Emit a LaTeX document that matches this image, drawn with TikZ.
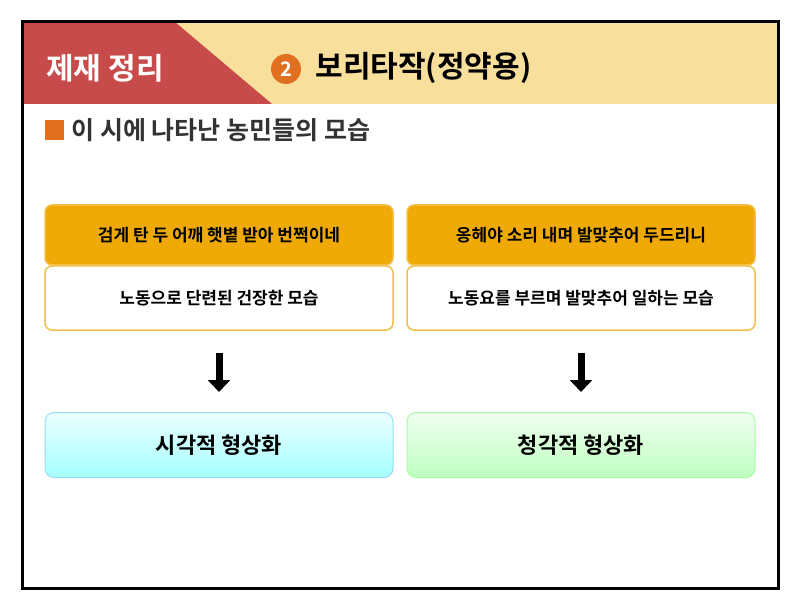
\documentclass[tikz,border=0pt]{standalone}
\usepackage{fontspec}
\setmainfont{Noto Sans CJK KR}
\newfontfamily\hbold{Noto Sans CJK KR Bold}
\usetikzlibrary{positioning,arrows.meta}
\definecolor{hdred}{HTML}{C84B4B}
\definecolor{hdyellow}{HTML}{F8DF9C}
\definecolor{lineorange}{HTML}{E07020}
\definecolor{boxgold}{HTML}{EFAA08}
\definecolor{boxedge}{HTML}{F1C04A}
\tikzset{
    verse/.style={draw=boxedge, fill=boxgold, rounded corners=7pt, minimum width=348pt,
        minimum height=60pt, font=\hbold\fontsize{17}{20}\selectfont, line width=1.5pt},
    meaning/.style={draw=boxedge, fill=white, rounded corners=7pt, minimum width=348pt,
        minimum height=64pt, font=\hbold\fontsize{17}{20}\selectfont, line width=1.5pt},
    result/.style={rounded corners=9pt, minimum width=348pt, minimum height=65pt,
        font=\hbold\fontsize{22}{26}\selectfont, line width=1pt},
    downarrow/.style={-{Triangle[length=12pt,width=22pt]}, line width=7pt}
}
\begin{document}
\begin{tikzpicture}[x=1pt,y=-1pt]
    \useasboundingbox[fill=white] (0,0) rectangle (800,612);
    % header band
    \fill[hdyellow] (22,22) rectangle (778,104);
    \fill[hdred] (22,22) -- (175,22) -- (272,104) -- (22,104) -- cycle;
    \node[text=white, font=\hbold\fontsize{30}{34}\selectfont] (topic) at (105,68) {제재 정리};
    \node[circle, fill=lineorange, inner sep=0pt, minimum size=30pt, text=white,
        font=\hbold\fontsize{20}{22}\selectfont] (num) at (286,69) {2};
    \node[anchor=west, font=\hbold\fontsize{30}{34}\selectfont] (title) at (312,68) {보리타작(정약용)};
    % subtitle
    \fill[lineorange] (45,120) rectangle (64,140);
    \node[anchor=west, text=black!80, font=\hbold\fontsize{25}{28}\selectfont] (sub) at (68,130) {이 시에 나타난 농민들의 모습};
    % left column
    \node[verse] (v1) at (219,235) {검게 탄 두 어깨 햇볕 받아 번쩍이네};
    \node[meaning] (m1) at (219,298) {노동으로 단련된 건장한 모습};
    \node[result, draw=cyan!40, top color=cyan!8, bottom color=cyan!35] (r1) at (219,445) {시각적 형상화};
    % right column
    \node[verse] (v2) at (581,235) {옹헤야 소리 내며 발맞추어 두드리니};
    \node[meaning] (m2) at (581,298) {노동요를 부르며 발맞추어 일하는 모습};
    \node[result, draw=green!35, top color=green!6, bottom color=green!25] (r2) at (581,445) {청각적 형상화};
    \draw[downarrow] ([yshift=-22pt]m1.south) -- ([yshift=20pt]r1.north);
    \draw[downarrow] ([yshift=-22pt]m2.south) -- ([yshift=20pt]r2.north);
    % frame
    \draw[line width=3pt] (22,22) rectangle (778,588);
\end{tikzpicture}
\end{document}
